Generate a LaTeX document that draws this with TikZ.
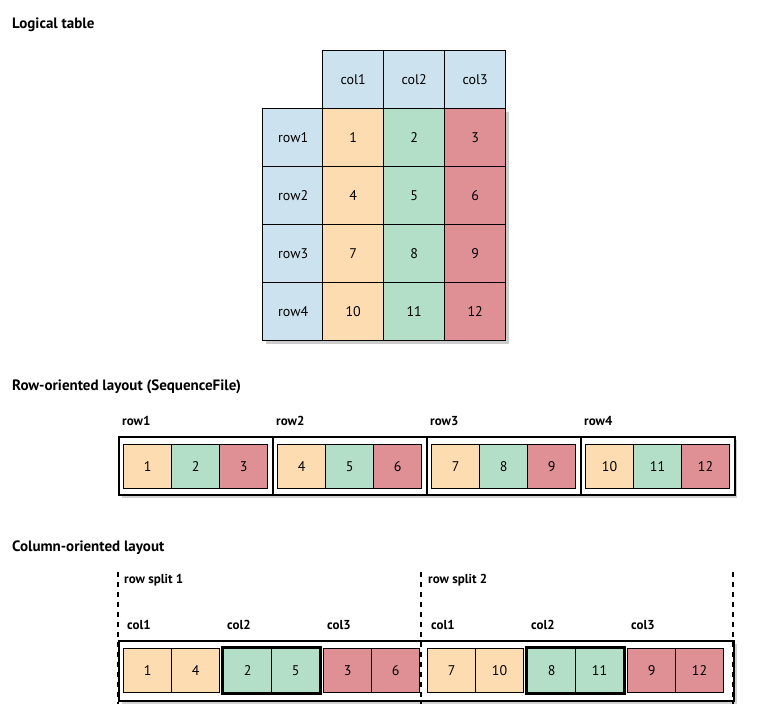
\documentclass[tikz,border=0pt]{standalone}
\usepackage{fontspec}
\setmainfont{PT Sans}
\begin{document}
\begin{tikzpicture}[x=1pt,y=-1pt,
  hd/.style={fill=cB},
  c1/.style={fill=cO},c2/.style={fill=cG},c3/.style={fill=cR},
  cell/.style={draw=black,line width=1.2pt,minimum width=#1,minimum height=44pt,inner sep=0pt,font=\fontsize{14}{14}\selectfont,anchor=north west},
  tcell/.style={draw=black,line width=1.4pt,minimum width=61pt,minimum height=58pt,inner sep=0pt,font=\fontsize{14}{14}\selectfont,anchor=north west},
  ttl/.style={font=\bfseries\fontsize{15}{15}\selectfont,anchor=west,inner sep=0pt},
  lbl/.style={font=\bfseries\fontsize{13}{13}\selectfont,anchor=west,inner sep=0pt},
  box/.style={draw=black,line width=1.8pt,fill=white},
  dsh/.style={line width=1.2pt,dash pattern=on 5pt off 5pt}]
\definecolor{cB}{HTML}{CCE3EF}\definecolor{cO}{HTML}{FDDCB1}
\definecolor{cG}{HTML}{B3DEC8}\definecolor{cR}{HTML}{DE9095}
\useasboundingbox (0,0) rectangle (771,704);
\node[ttl] (t1) at (12,25) {Logical table};
\node[ttl] (t2) at (12,387) {Row-oriented layout (SequenceFile)};
\node[ttl] (t3) at (12,548) {Column-oriented layout};
% logical table
\fill[gray!40] (266,112) rectangle (509,344);
\fill[white] (262,50) rectangle (322,108);
\foreach \c/\n in {1/col1,2/col2,3/col3}
  \node[tcell,hd] (h\c) at ({261+61*\c},50) {\n};
\foreach \r in {1,2,3,4}{
  \pgfmathsetmacro\yy{108+58*(\r-1)}
  \node[tcell,hd] (r\r) at (262,\yy) {row\r};
  \foreach \c in {1,2,3}{
    \pgfmathtruncatemacro\v{3*(\r-1)+\c}
    \node[tcell,c\c] (v\r\c) at ({261+61*\c},\yy) {\v};}}
% row oriented
\fill[gray!35] (122,440) rectangle (737,498);
\foreach \r in {1,2,3,4}{
  \pgfmathsetmacro\xx{118+154*(\r-1)}
  \node[box,anchor=north west,minimum width=154pt,minimum height=58pt,inner sep=0pt] (R\r) at (\xx,436) {};
  \node[lbl] (RL\r) at ({\xx+4},421) {row\r};
  \foreach \c in {1,2,3}{
    \pgfmathtruncatemacro\v{3*(\r-1)+\c}
    \node[cell=48pt,c\c] (s\r\c) at ({\xx+5+48*(\c-1)},444) {\v};}}
% column oriented
\fill[gray!35] (122,644) rectangle (737,704);
\node[box,anchor=north west,minimum width=615pt,minimum height=60pt,inner sep=0pt] (CB) at (118,640) {};
\coordinate (d1t) at (118,572);\coordinate (d1b) at (118,704);
\coordinate (d2t) at (421,572);\coordinate (d2b) at (421,704);
\coordinate (d3t) at (733,572);\coordinate (d3b) at (733,704);
\draw[dsh] (d1t)--(d1b); \draw[dsh] (d2t)--(d2b); \draw[dsh] (d3t)--(d3b);
\node[lbl] (rs1) at (124,580) {row split 1};
\node[lbl] (rs2) at (428,580) {row split 2};
\foreach \s/\x in {1/123,2/427}{
  \foreach \c in {1,2,3}{
    \pgfmathsetmacro\gx{\x+100*(\c-1)}
    \node[lbl] (CL\s\c) at ({\gx+4},625) {col\c};
    \pgfmathtruncatemacro\a{6*(\s-1)+\c}
    \pgfmathtruncatemacro\b{6*(\s-1)+\c+3}
    \node[cell=48pt,c\c] (p\s\c a) at (\gx,648) {\a};
    \node[cell=48pt,c\c] (p\s\c b) at ({\gx+48},648) {\b};
    \ifnum\c=2 \draw[line width=3pt] ({\gx-1},647) rectangle ({\gx+97},693);\fi
  }}
\end{tikzpicture}
\end{document}
